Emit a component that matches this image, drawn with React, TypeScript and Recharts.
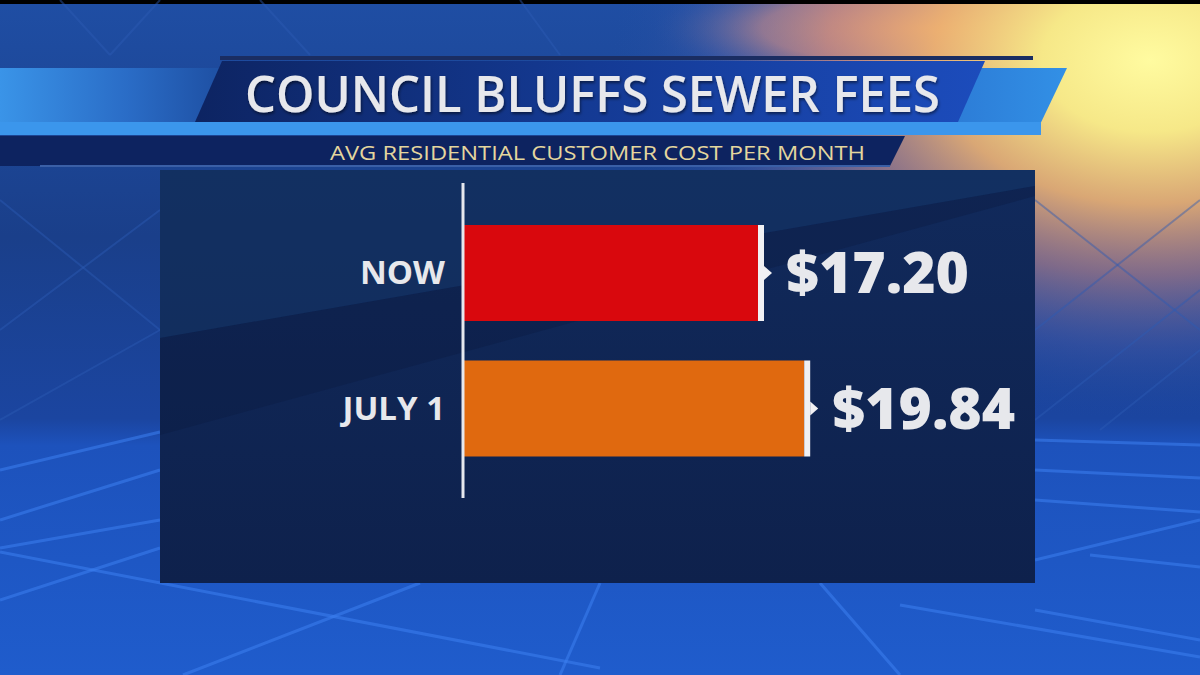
import { BarChart, Bar, XAxis, YAxis, Cell, LabelList } from 'recharts';

const TITLE = 'COUNCIL BLUFFS SEWER FEES';
const SUBTITLE = 'AVG RESIDENTIAL CUSTOMER COST PER MONTH';
const CATEGORIES = ['NOW', 'JULY 1'];
const FEES = [17.2, 19.84];
const BAR_COLORS = ['#d9080d', '#e0690f'];
const X_DOMAIN: [number, number] = [0, 30];

const data = CATEGORIES.map((label, i) => ({ label, value: FEES[i] }));

const TEXT = '#e7e8ec';
const FONT = '"Open Sans", "DejaVu Sans", sans-serif';

// bar with the white end cap and small pointer
const CappedBar = (props: any) => {
  const { x, y, width, height, fill } = props;
  const cap = 6;
  const end = x + width;
  const mid = y + height / 2;
  return (
    <g>
      <rect x={x} y={y} width={Math.max(width - cap, 0)} height={height} fill={fill} />
      <rect x={end - cap} y={y} width={cap} height={height} fill="#f1f1f4" />
      <path d={`M${end},${mid - 7} L${end + 8},${mid} L${end},${mid + 7} Z`} fill="#f1f1f4" />
    </g>
  );
};

const floorLines = [
  'M0,470 L160,432',
  'M0,520 L160,470',
  'M0,552 L600,668',
  'M0,600 L160,548',
  'M420,583 L183,675',
  'M160,520 L0,548',
  'M600,583 L560,675',
  'M820,583 L900,675',
  'M900,605 L1200,657',
  'M1035,500 L1200,512',
  'M1035,470 L1200,478',
  'M1035,440 L1200,445',
  'M1090,555 L1200,567',
  'M1035,560 L1200,520',
  'M1035,610 L1200,640',
];

const latticeLines = [
  'M1035,200 L1200,330',
  'M1035,330 L1200,200',
  'M1035,420 L1200,290',
  'M1100,430 L1200,350',
  'M0,200 L160,330',
  'M0,330 L160,210',
  'M0,420 L160,330',
  'M60,0 L110,55',
  'M110,55 L160,0',
  'M260,0 L310,55',
  'M520,0 L560,55',
];

function Backdrop() {
  return (
    <svg width={1200} height={675} style={{ position: 'absolute', left: 0, top: 0 }}>
      <defs>
        <linearGradient id="base" x1="0" y1="0" x2="0" y2="1">
          <stop offset="0" stopColor="#1f4ea4" />
          <stop offset="0.35" stopColor="#1a3f8a" />
          <stop offset="0.62" stopColor="#1b45a0" />
          <stop offset="0.66" stopColor="#1d52bc" />
          <stop offset="1" stopColor="#1f5ccc" />
        </linearGradient>
        <radialGradient
          id="glow"
          cx="1150"
          cy="60"
          r="360"
          gradientUnits="userSpaceOnUse"
          gradientTransform="translate(1150,60) scale(1.5,1) translate(-1150,-60)"
        >
          <stop offset="0" stopColor="#fffba0" stopOpacity="1" />
          <stop offset="0.2" stopColor="#f6e888" stopOpacity="1" />
          <stop offset="0.4" stopColor="#eeb272" stopOpacity="0.9" />
          <stop offset="0.6" stopColor="#d08c86" stopOpacity="0.55" />
          <stop offset="0.8" stopColor="#7070b4" stopOpacity="0.25" />
          <stop offset="1" stopColor="#1f4ea4" stopOpacity="0" />
        </radialGradient>
        <radialGradient
          id="topGlow"
          cx="930"
          cy="28"
          r="280"
          gradientUnits="userSpaceOnUse"
          gradientTransform="translate(930,28) scale(1,0.22) translate(-930,-28)"
        >
          <stop offset="0" stopColor="#e9a268" stopOpacity="0.95" />
          <stop offset="0.6" stopColor="#d8907a" stopOpacity="0.6" />
          <stop offset="1" stopColor="#1f4ea4" stopOpacity="0" />
        </radialGradient>
        <linearGradient id="stripe" x1="0" y1="0" x2="1" y2="0">
          <stop offset="0" stopColor="#3a94e8" />
          <stop offset="0.12" stopColor="#2a6cc6" />
          <stop offset="0.2" stopColor="#1f52a6" />
          <stop offset="0.85" stopColor="#2a74d0" />
          <stop offset="1" stopColor="#3290e6" />
        </linearGradient>
        <linearGradient id="plate" x1="0" y1="0" x2="1" y2="0">
          <stop offset="0" stopColor="#0d2462" />
          <stop offset="0.5" stopColor="#143a94" />
          <stop offset="1" stopColor="#1c4cbc" />
        </linearGradient>
        <linearGradient id="panel" x1="0" y1="0" x2="0" y2="1">
          <stop offset="0" stopColor="#112a5c" />
          <stop offset="1" stopColor="#0e214c" />
        </linearGradient>
        <filter id="shadow" x="-5%" y="-20%" width="110%" height="140%">
          <feDropShadow dx="1" dy="2" stdDeviation="1.5" floodColor="#000" floodOpacity="0.5" />
        </filter>
      </defs>

      <rect x={0} y={0} width={1200} height={675} fill="url(#base)" />
      <rect x={0} y={0} width={1200} height={100} fill="url(#topGlow)" />
      <rect x={0} y={0} width={1200} height={675} fill="url(#glow)" />
      <rect x={0} y={0} width={1200} height={4} fill="#000" />

      {latticeLines.map((d, i) => (
        <path key={`l-${i}`} d={d} stroke="#2c5cb4" strokeOpacity={0.45} strokeWidth={2} fill="none" />
      ))}
      {floorLines.map((d, i) => (
        <path key={`f-${i}`} d={d} stroke="#3d7ff0" strokeOpacity={0.55} strokeWidth={3} fill="none" />
      ))}

      {/* title banner */}
      <rect x={220} y={56} width={813} height={4} fill="#1a2d62" />
      <polygon points="0,68 1067,68 1035,135 0,135" fill="url(#stripe)" />
      <rect x={0} y={122} width={1041} height={13} fill="#3b96ec" />
      <polygon points="222,61 985,61 958,122 195,122" fill="url(#plate)" />

      {/* subtitle band */}
      <polygon points="0,136 905,136 890,166 0,166" fill="#0d2360" />
      <rect x={40} y={165} width={850} height={2} fill="#3a5fa6" />

      {/* chart panel */}
      <rect x={160} y={170} width={875} height={413} fill="url(#panel)" />
      <polygon points="160,170 1035,170 1035,186 160,338" fill="#143566" fillOpacity={0.55} />
      <polygon points="160,338 1035,186 1035,196 160,435" fill="#0b1b40" fillOpacity={0.35} />

      <text
        x={245}
        y={112}
        textLength={695}
        lengthAdjust="spacingAndGlyphs"
        fill={TEXT}
        fontFamily={FONT}
        fontWeight={600}
        fontSize={50}
        filter="url(#shadow)"
      >
        {TITLE}
      </text>
      <text
        x={330}
        y={160}
        textLength={535}
        lengthAdjust="spacingAndGlyphs"
        fill="#e4d69e"
        fontFamily={FONT}
        fontWeight={500}
        fontSize={20}
      >
        {SUBTITLE}
      </text>
    </svg>
  );
}

export default function App() {
  return (
    <div
      style={{
        position: 'fixed',
        left: 0,
        top: 0,
        width: 1200,
        height: 675,
        overflow: 'hidden',
        fontFamily: FONT,
      }}
    >
      <Backdrop />
      <div style={{ position: 'absolute', left: 0, top: 0 }}>
        <BarChart
          width={1200}
          height={675}
          data={data}
          layout="vertical"
          margin={{ top: 183, right: 212, bottom: 177, left: 0 }}
        >
          <XAxis type="number" domain={X_DOMAIN} hide />
          <YAxis
            type="category"
            dataKey="label"
            width={463}
            padding={{ top: 22, bottom: 22 }}
            axisLine={{ stroke: '#e6e8ee', strokeWidth: 3 }}
            tickLine={false}
            tickSize={0}
            tickMargin={18}
            tick={{ fill: TEXT, fontSize: 33, fontWeight: 700, fontFamily: FONT }}
          />
          <Bar dataKey="value" barSize={96} shape={<CappedBar />} isAnimationActive={false}>
            {data.map((d, i) => (
              <Cell key={d.label} fill={BAR_COLORS[i]} />
            ))}
            <LabelList
              dataKey="value"
              position="right"
              offset={22}
              formatter={(v: any) => `$${Number(v).toFixed(2)}`}
              fill={TEXT}
              fontSize={57}
              fontWeight={800}
              fontFamily={FONT}
            />
          </Bar>
        </BarChart>
      </div>
    </div>
  );
}
